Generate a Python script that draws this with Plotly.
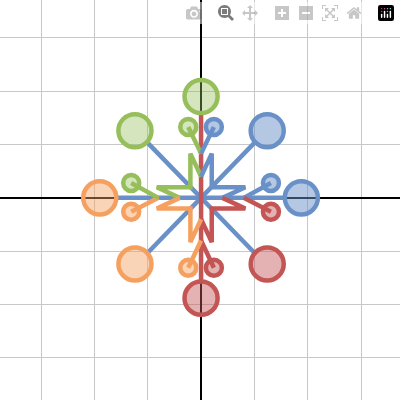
import plotly.graph_objects as go

# colours per quadrant
colors = {"green": "rgb(150,190,90)", "blue": "rgb(105,145,200)",
          "red": "rgb(195,85,85)", "orange": "rgb(245,160,95)"}
fills = {"green": "rgba(150,190,90,0.4)", "blue": "rgba(105,145,200,0.5)",
         "red": "rgba(195,85,85,0.45)", "orange": "rgba(245,160,95,0.45)"}

# big circles: x, y, colour
big_x = [0, -1.24, 1.24, 1.88, -1.9, -1.24, 1.24, 0]
big_y = [1.9, 1.26, 1.26, 0, 0, -1.24, -1.24, -1.88]
big_c = ["green", "green", "blue", "blue", "orange", "orange", "red", "red"]
big_r = 0.31

# small circles
small_x = [-0.24, 0.24, 1.31, 1.31, 0.24, -0.24, -1.31, -1.31]
small_y = [1.33, 1.33, 0.28, -0.26, -1.31, -1.31, -0.26, 0.28]
small_c = ["green", "blue", "blue", "red", "red", "orange", "orange", "green"]
small_r = 0.15

# pinwheel spikes per quadrant (sign of x, sign of y)
quad = {"green": (-1, 1), "blue": (1, 1), "red": (1, -1), "orange": (-1, -1)}
spike_u = [0, 0.2, 0.2, 0.83, 0.4]
spike_v = [0.4, 0.83, 0.2, 0.2, 0]

# connectors from star to small circles
conn_x0 = [0, 0, 0.8, 0.8, 0, 0, -0.8, -0.8]
conn_y0 = [0.83, 0.83, 0, 0, -0.8, -0.8, 0, 0]

fig = go.Figure()

# long lines
fig.add_trace(go.Scatter(x=[-1.0, 1.0], y=[1.03, -1.03], mode="lines",
                         line=dict(color=colors["blue"], width=4.5)))
fig.add_trace(go.Scatter(x=[1.0, -1.0], y=[1.03, -1.03], mode="lines",
                         line=dict(color=colors["blue"], width=4.5)))
fig.add_trace(go.Scatter(x=[-1.6, 1.6], y=[0, 0], mode="lines",
                         line=dict(color=colors["blue"], width=4.5)))
fig.add_trace(go.Scatter(x=[0, 0], y=[1.6, -1.6], mode="lines",
                         line=dict(color=colors["red"], width=4.5)))

for name, (sx, sy) in quad.items():
    fig.add_trace(go.Scatter(x=[sx * u for u in spike_u], y=[sy * v for v in spike_v],
                             mode="lines", line=dict(color=colors[name], width=4.5)))

for x0, y0, x1, y1, c in zip(conn_x0, conn_y0, small_x, small_y, small_c):
    fig.add_trace(go.Scatter(x=[x0, x1], y=[y0, y1], mode="lines",
                             line=dict(color=colors[c], width=4.5)))

shapes = []
for xs, ys, cs, r in [(big_x, big_y, big_c, big_r), (small_x, small_y, small_c, small_r)]:
    for x, y, c in zip(xs, ys, cs):
        shapes.append(dict(type="circle", xref="x", yref="y",
                           x0=x - r, x1=x + r, y0=y - r, y1=y + r,
                           fillcolor=fills[c], line=dict(color=colors[c], width=4.5)))

fig.update_layout(width=400, height=400, margin=dict(l=0, r=0, t=0, b=0),
                  plot_bgcolor="white", paper_bgcolor="white", showlegend=False,
                  shapes=shapes)
fig.update_xaxes(range=[-3.77, 3.73], dtick=1, showgrid=True, gridcolor="#c8c8c8",
                 gridwidth=1.2, zeroline=True, zerolinecolor="black", zerolinewidth=1.5,
                 showticklabels=False)
fig.update_yaxes(range=[-3.79, 3.71], dtick=1, showgrid=True, gridcolor="#c8c8c8",
                 gridwidth=1.2, zeroline=True, zerolinecolor="black", zerolinewidth=1.5,
                 showticklabels=False)

fig.write_html("out.html", post_script="document.body.style.margin='0';")
